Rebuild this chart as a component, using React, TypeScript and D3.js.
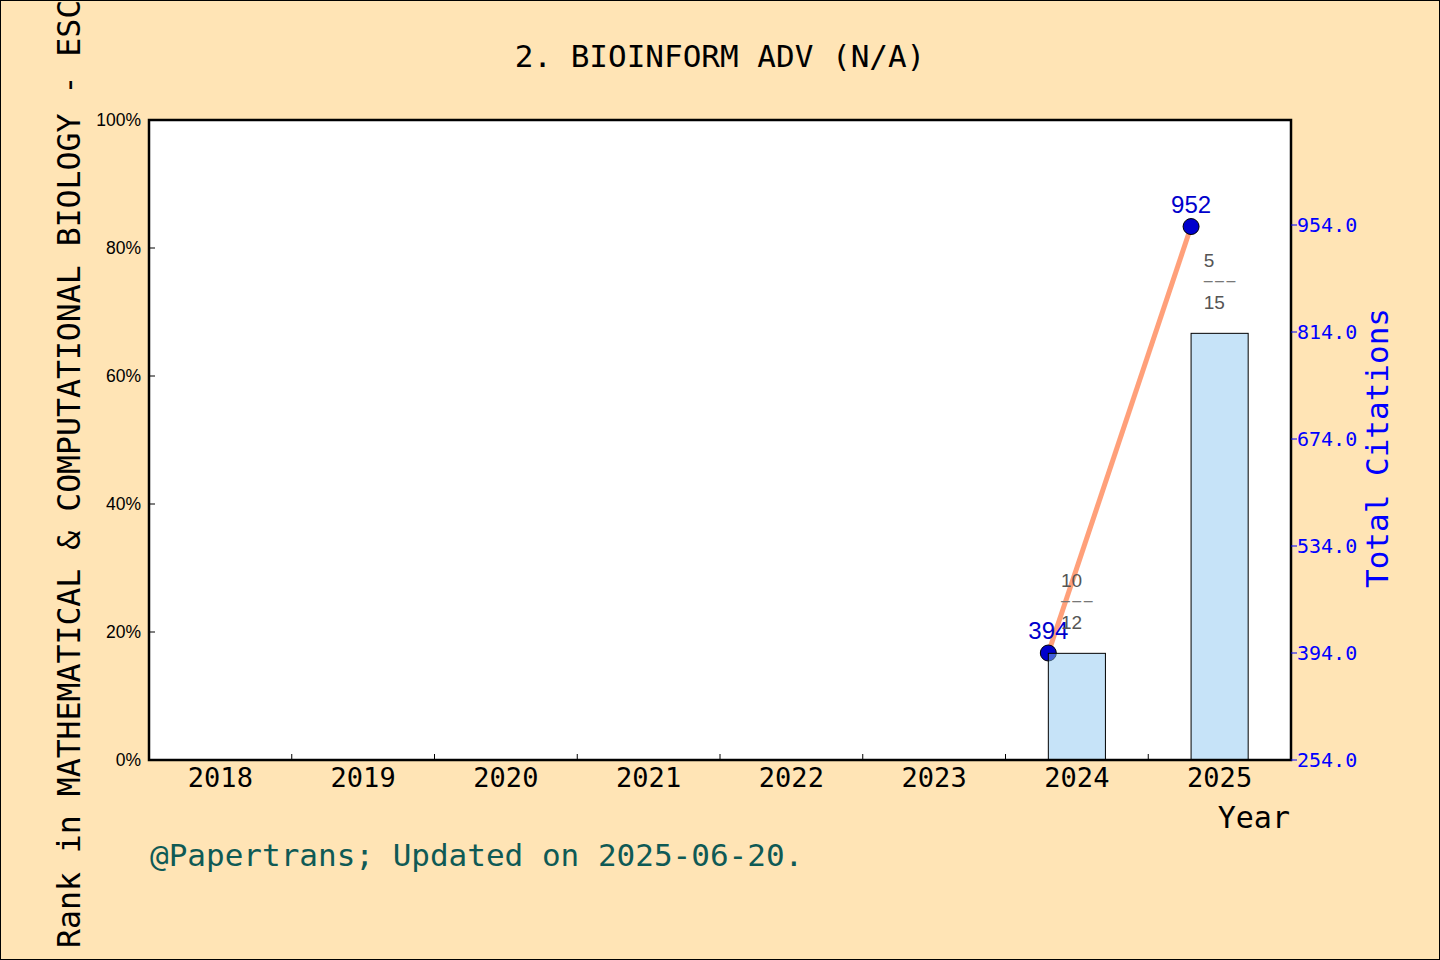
import { scaleBand, scaleLinear, line } from 'd3'

const years = ['2018', '2019', '2020', '2021', '2022', '2023', '2024', '2025']
const rankYears = ['2024', '2025']
const ranks = [10, 5]
const totals = [12, 15]
const citations = [394, 952]
const leftTicks = [0, 20, 40, 60, 80, 100]
const rightTicks = [254, 394, 534, 674, 814, 954]

const W = 1440
const H = 960
const m = { left: 149, right: 1291, top: 120, bottom: 760 }

export default function App() {
  const x = scaleBand<string>().domain(years).range([m.left, m.right])
  const yPct = scaleLinear().domain([0, 100]).range([m.bottom, m.top])
  const yCit = scaleLinear().domain([254, 1091.4]).range([m.bottom, m.top])
  const bw = x.bandwidth() * 0.4
  const cx = (y: string) => (x(y) ?? 0) + x.bandwidth() / 2

  const pts = rankYears.map((y, i) => [cx(y) - bw / 2, yCit(citations[i])] as [number, number])
  const path = line()(pts) ?? ''

  const mono = 'DejaVu Sans Mono, monospace'
  const sans = 'Liberation Sans, Arial, sans-serif'

  return (
    <svg width={W} height={H} style={{ position: 'fixed', left: 0, top: 0, background: '#FFE4B5' }}>
      <rect x={0.5} y={0.5} width={W - 1} height={H - 1} fill="#FFE4B5" stroke="#000" />
      <rect x={m.left} y={m.top} width={m.right - m.left} height={m.bottom - m.top} fill="#fff" />

      <text x={720} y={67} textAnchor="middle" fontFamily={mono} fontSize={31} fill="#000">
        2. BIOINFORM ADV (N/A)
      </text>

      {/* line + points */}
      <path d={path} fill="none" stroke="#FFA07A" strokeWidth={5} />
      {pts.map((p, i) => (
        <g key={i}>
          <circle cx={p[0]} cy={p[1]} r={8} fill="#0000cc" stroke="#000" strokeWidth={1} />
          <text x={p[0]} y={p[1] - 14} textAnchor="middle" fontFamily={sans} fontSize={24} fill="#0000cc">
            {citations[i]}
          </text>
        </g>
      ))}

      {/* rank bars */}
      {rankYears.map((y, i) => {
        const v = ((totals[i] - ranks[i]) / totals[i]) * 100
        const top = yPct(v)
        const lx = cx(y) - 16
        return (
          <g key={y}>
            <rect
              x={cx(y) - bw / 2}
              y={top}
              width={bw}
              height={m.bottom - top}
              fill="rgb(135,196,240)"
              fillOpacity={0.48}
              stroke="#000"
              strokeWidth={1}
            />
            <text x={lx} y={top - 66} fontFamily={sans} fontSize={19} fill="#555">{ranks[i]}</text>
            <text x={lx} y={top - 47} fontFamily={sans} fontSize={16} letterSpacing={2.5} fill="#777">–––</text>
            <text x={lx} y={top - 24} fontFamily={sans} fontSize={19} fill="#555">{totals[i]}</text>
          </g>
        )
      })}

      {/* frame */}
      <rect x={m.left} y={m.top} width={m.right - m.left} height={m.bottom - m.top} fill="none" stroke="#000" strokeWidth={2.5} />

      {/* left axis */}
      {leftTicks.map((t) => (
        <g key={t}>
          <line x1={m.left} x2={m.left + 6} y1={yPct(t)} y2={yPct(t)} stroke="#000" />
          <text x={141} y={yPct(t) + 6} textAnchor="end" fontFamily={sans} fontSize={17.5} fill="#000">{t}%</text>
        </g>
      ))}

      {/* right axis */}
      {rightTicks.map((t) => (
        <g key={t}>
          <line x1={m.right} x2={m.right + 6} y1={yCit(t)} y2={yCit(t)} stroke="#0000ff" />
          <text x={1297} y={yCit(t) + 7} fontFamily={mono} fontSize={20} fill="#0000ff">{t.toFixed(1)}</text>
        </g>
      ))}

      {/* bottom axis */}
      {years.slice(1).map((y) => (
        <line key={y} x1={x(y)} x2={x(y)} y1={m.bottom} y2={m.bottom - 6} stroke="#000" />
      ))}
      {years.map((y) => (
        <text key={y} x={cx(y)} y={787} textAnchor="middle" fontFamily={mono} fontSize={27} fill="#000">{y}</text>
      ))}

      <text x={1290} y={828} textAnchor="end" fontFamily={mono} fontSize={30} fill="#000">Year</text>
      <text transform="translate(80,948) rotate(-90)" fontFamily={mono} fontSize={31.5} fill="#000">
        Rank in MATHEMATICAL &amp; COMPUTATIONAL BIOLOGY - ESCI
      </text>
      <text transform="translate(1388,588) rotate(-90)" fontFamily={mono} fontSize={31} fill="#0000ff">
        Total Citations
      </text>
      <text x={150} y={866} fontFamily={mono} fontSize={31} fill="#0f5a55">
        @Papertrans; Updated on 2025-06-20.
      </text>
    </svg>
  )
}
